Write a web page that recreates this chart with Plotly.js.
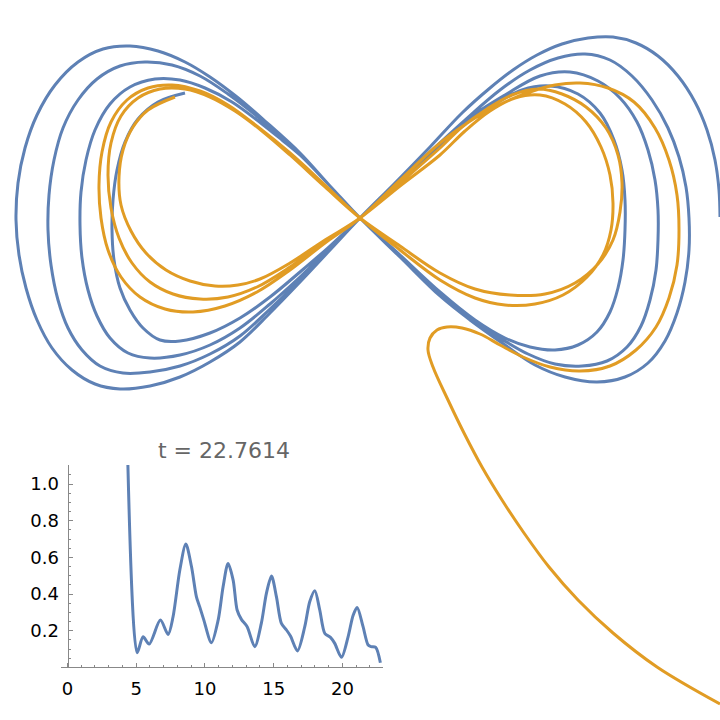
<!DOCTYPE html>
<html><head><meta charset="utf-8">
<script src="https://cdn.plot.ly/plotly-3.0.1.min.js"></script>
<style>html,body{margin:0;padding:0;background:#fff}#chart{width:720px;height:720px}</style>
</head><body><div id="chart"></div>
<script>
// Trajectory data (arbitrary phase-plane units, origin at the crossing point)
const blueR0 = [[360,1],[359,28],[355,58],[347,88],[335,116],[318,142],[298,162],[276,175],[253,181],[228,180],[202,174],[177,163],[153,148],[130,130],[102,105],[70,71],[35,35],[0,0]];
const blueL1 = [[-30,-32],[-60,-64],[-90,-95],[-120,-124],[-150,-144],[-180,-159],[-210,-168],[-240,-171],[-265,-166],[-288,-152],[-308,-130],[-323,-102],[-334,-70],[-341,-37],[-344,-2],[-342,35],[-335,70],[-323,103],[-305,133],[-282,156],[-257,169],[-230,172],[-202,167],[-175,156],[-150,141],[-123,121],[-95,97],[-60,65],[-30,32],[0,0]];
const blueR1 = [[40,-39],[80,-78],[110,-102],[145,-127],[175,-147],[205,-159],[237,-164],[265,-159],[288,-145],[305,-123],[317,-95],[325,-64],[329,-32],[329,0],[326,31],[319,61],[308,90],[292,118],[272,142],[250,158],[225,164],[198,160],[170,148],[140,128],[105,98],[70,66],[35,33],[0,0]];
const blueL2 = [[-30,-31],[-60,-62],[-90,-91],[-120,-118],[-150,-136],[-180,-148],[-210,-154],[-237,-155],[-260,-148],[-278,-132],[-292,-110],[-302,-82],[-309,-47],[-312,-12],[-311,23],[-306,58],[-297,90],[-282,118],[-263,139],[-240,152],[-215,156],[-188,153],[-160,142],[-132,124],[-102,101],[-80,82],[-60,64],[-30,32],[0,0]];
const blueR2 = [[40,-38],[80,-76],[110,-100],[140,-120],[168,-136],[195,-146],[222,-148],[247,-143],[267,-129],[281,-108],[290,-82],[296,-52],[298,-22],[298,8],[295,38],[288,68],[277,96],[260,120],[238,137],[210,146],[180,142],[145,123],[105,97],[70,65],[35,32],[0,0]];
const blueL3 = [[-30,-30],[-60,-59],[-90,-86],[-120,-110],[-150,-127],[-180,-137],[-210,-140],[-232,-135],[-250,-120],[-263,-98],[-272,-72],[-278,-40],[-280,-7],[-279,26],[-274,58],[-265,88],[-250,114],[-230,131],[-205,139],[-180,138],[-155,130],[-128,116],[-98,94],[-78,78],[-60,63],[-30,32],[0,0]];
const blueR3 = [[40,-37],[80,-74],[115,-102],[145,-120],[170,-129],[195,-132],[218,-127],[237,-114],[250,-94],[258,-70],[263,-42],[265,-12],[265,18],[262,48],[254,78],[240,105],[218,124],[190,132],[162,128],[130,111],[100,90],[70,62],[35,31],[0,0]];
const blueL4 = [[-30,-28],[-60,-54],[-90,-79],[-120,-100],[-150,-115],[-180,-123],[-200,-122],[-217,-110],[-230,-92],[-240,-70],[-246,-42],[-248,-12],[-247,18],[-243,48],[-235,76],[-222,99],[-202,116],[-175,125]];

const orangeR0 = [[360,-486],[297,-449],[253,-415],[218,-382],[189,-349],[164,-315],[142,-282],[122,-249],[104,-215],[88,-182],[73,-149],[68,-132],[70,-120],[77,-112],[87,-109],[102,-110],[120,-116],[140,-127],[163,-139],[190,-149],[220,-153],[250,-148],[276,-132],[296,-109],[309,-80],[317,-47],[319,-12],[317,23],[309,58],[295,90],[274,116],[248,130],[220,135],[195,133],[170,126],[145,116],[120,103],[100,90],[80,75],[40,38],[0,0]];
const orangeL1 = [[-35,-25],[-70,-52],[-103,-74],[-135,-88],[-167,-94],[-195,-91],[-220,-79],[-239,-59],[-252,-32],[-259,0],[-261,33],[-258,66],[-249,96],[-233,118],[-212,130],[-188,133],[-160,127],[-132,113],[-102,91],[-70,65],[-35,33],[0,0]];
const orangeR1 = [[40,-32],[80,-62],[115,-80],[145,-87],[175,-86],[203,-77],[227,-59],[243,-37],[251,-12],[253,15],[250,43],[241,71],[226,96],[205,114],[180,123],[155,120],[130,107],[105,87],[80,63],[40,32],[0,0]];
const orangeL2 = [[-35,-24],[-70,-49],[-103,-69],[-132,-79],[-160,-81],[-187,-76],[-210,-64],[-228,-45],[-241,-20],[-249,10],[-252,43],[-249,75],[-239,102],[-222,120],[-200,129],[-175,129],[-150,121],[-125,107],[-98,87],[-70,63],[-35,31],[0,0]];
const orangeR2 = [[40,-28],[80,-55],[115,-71],[150,-77],[185,-76],[215,-65],[238,-46],[253,-22],[260,6],[262,35],[258,63],[246,90],[226,111],[202,124],[178,129],[152,123],[127,109],[102,91],[80,70],[40,35],[0,0]];
const orangeL3 = [[-35,-22],[-70,-45],[-100,-61],[-122,-67],[-145,-68],[-170,-63],[-194,-52],[-214,-35],[-229,-13],[-239,13],[-241,41],[-237,68],[-227,91],[-212,108],[-185,121]];

// Inset time series
const tNow = 22.7614;
const tVals = [4.38,5.07,5.50,5.94,6.76,7.32,7.68,8.17,8.61,9.02,9.38,9.62,9.92,10.47,10.96,11.32,11.68,12.05,12.34,12.65,13.07,13.62,14.1,14.47,14.84,15.2,15.56,15.93,16.22,16.73,17.26,17.62,17.99,18.35,18.72,19.13,19.44,19.93,20.41,20.78,21.07,21.5,21.87,22.1,22.42,22.76];
const dVals = [1.15,0.08,0.167,0.127,0.258,0.18,0.276,0.53,0.673,0.55,0.385,0.33,0.258,0.135,0.258,0.44,0.567,0.476,0.313,0.262,0.222,0.113,0.24,0.404,0.498,0.385,0.24,0.204,0.171,0.09,0.222,0.358,0.418,0.313,0.185,0.164,0.131,0.055,0.167,0.285,0.327,0.222,0.122,0.113,0.109,0.025];
const xTicks = [0,5,10,15,20];
const yTicks = [0.2,0.4,0.6,0.8,1.0];
const yTickText = ['0.2','0.4','0.6','0.8','1.0'];

const BLUE = '#5E81B5', ORANGE = '#E19C24', AX = '#888888';

const bluePts = [].concat(blueR0, blueL1, blueR1, blueL2, blueR2, blueL3, blueR3, blueL4);
const orangePts = [].concat(orangeR0, orangeL1, orangeR1, orangeL2, orangeR2, orangeL3);

const traces = [
  {x: bluePts.map(p=>p[0]), y: bluePts.map(p=>p[1]), type:'scatter', mode:'lines',
   line:{color:BLUE, width:3, shape:'spline', smoothing:1}, xaxis:'x', yaxis:'y', hoverinfo:'skip'},
  {x: orangePts.map(p=>p[0]), y: orangePts.map(p=>p[1]), type:'scatter', mode:'lines',
   line:{color:ORANGE, width:3, shape:'spline', smoothing:1}, xaxis:'x', yaxis:'y', hoverinfo:'skip'},
  {x: tVals, y: dVals, type:'scatter', mode:'lines',
   line:{color:BLUE, width:3, shape:'spline', smoothing:0.8}, xaxis:'x2', yaxis:'y2', hoverinfo:'skip'}
];

const tickFont = {family:'DejaVu Sans', size:18, color:'#000'};
const layout = {
  width:720, height:720, margin:{l:0,r:0,t:0,b:0},
  paper_bgcolor:'#fff', plot_bgcolor:'rgba(0,0,0,0)', showlegend:false,
  xaxis:{domain:[0,1], range:[-360,360], visible:false},
  yaxis:{domain:[0,1], range:[-502,218], visible:false},
  xaxis2:{domain:[61/720, 383/720], anchor:'y2', range:[-0.47,22.95],
    showline:true, linecolor:AX, linewidth:1, showgrid:false, zeroline:false,
    ticks:'inside', ticklen:4.5, tickcolor:AX, tickwidth:1,
    tickmode:'array', tickvals:xTicks, ticktext:xTicks.map(String), tickfont:tickFont, ticklabelstandoff:5,
    minor:{tickmode:'linear', tick0:0, dtick:1, ticks:'inside', ticklen:2.7, tickcolor:AX, showgrid:false}},
  yaxis2:{domain:[52.6/720, 255/720], anchor:'free', position:67.5/720, range:[0,1.104],
    showline:true, linecolor:AX, linewidth:1, showgrid:false, zeroline:false,
    ticks:'inside', ticklen:4.5, tickcolor:AX, tickwidth:1,
    tickmode:'array', tickvals:yTicks, ticktext:yTickText, tickfont:tickFont, ticklabelstandoff:5,
    minor:{tickmode:'linear', tick0:0, dtick:0.05, ticks:'inside', ticklen:2.7, tickcolor:AX, showgrid:false}},
  annotations:[{xref:'paper', yref:'paper', x:223.5/720, y:(720-450)/720, xanchor:'center', yanchor:'middle',
    text:'t = ' + tNow, showarrow:false, font:{family:'DejaVu Sans', size:22, color:'#666666'}}]
};
Plotly.newPlot('chart', traces, layout, {staticPlot:true, displayModeBar:false});
</script></body></html>
